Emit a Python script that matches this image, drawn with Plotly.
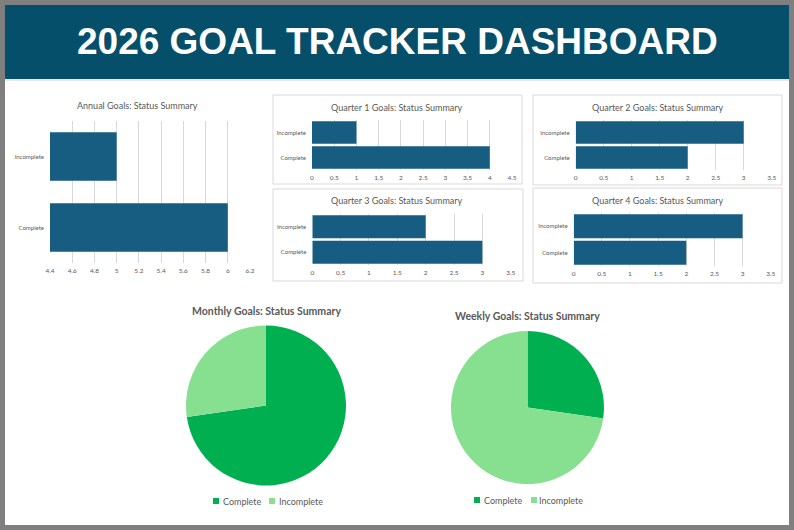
import plotly.graph_objects as go

W, H = 794, 530

# ---- data ----
categories = ["Complete", "Incomplete"]
annual_values = [6, 5]
q1_values = [4, 1]
q2_values = [2, 3]
q3_values = [3, 2]
q4_values = [2, 3]
monthly_values = [8, 3]
weekly_values = [3, 8]

BAR_COLOR = "#175d82"
DARK_GREEN = "#00b050"
LIGHT_GREEN = "#86e08f"
PIE_COLORS = [DARK_GREEN, LIGHT_GREEN]
TXT = "#595959"
FONT = "Lato"


def px(x):
    return x / W


def py(y):
    return 1 - y / H


fig = go.Figure()
layout = {}

bar_specs = [
    # title, values, x0, x1, y_top, y_bottom, range, dtick, title_x, title_y, bargap
    ("Annual Goals: Status Summary", annual_values, 50, 250, 121, 263, [4.4, 6.2], 0.2, 137, 106, 0.32),
    ("Quarter 1 Goals: Status Summary", q1_values, 312, 512, 120, 170, [0, 4.5], 0.5, 397, 107, 0.1),
    ("Quarter 2 Goals: Status Summary", q2_values, 575.7, 771.7, 120, 170, [0, 3.5], 0.5, 658, 107, 0.1),
    ("Quarter 3 Goals: Status Summary", q3_values, 312.3, 510.7, 214, 265, [0, 3.5], 0.5, 397, 200, 0.1),
    ("Quarter 4 Goals: Status Summary", q4_values, 573.7, 770.7, 213, 266, [0, 3.5], 0.5, 658, 200, 0.1),
]

annotations = []
shapes = []

for i, (title, vals, x0, x1, ytop, ybot, rng, dt, tx, ty, gap) in enumerate(bar_specs):
    k = "" if i == 0 else str(i + 1)
    fig.add_trace(go.Bar(
        x=vals, y=categories, orientation="h",
        marker=dict(color=BAR_COLOR, line=dict(width=0)),
        width=1 - gap,
        xaxis="x" + k, yaxis="y" + k, showlegend=False, hoverinfo="x+y",
    ))
    layout["xaxis" + k] = dict(
        domain=[px(x0), px(x1)], range=rng, dtick=dt, tick0=0,
        anchor="y" + k, showgrid=True, gridcolor="#d9d9d9", gridwidth=1,
        zeroline=False, showline=False, ticks="", automargin=False,
        tickfont=dict(size=6.5, color=TXT, family=FONT), ticklabelstandoff=2,
        fixedrange=True,
    )
    layout["yaxis" + k] = dict(
        domain=[py(ybot), py(ytop)], anchor="x" + k,
        categoryorder="array", categoryarray=categories,
        showgrid=False, zeroline=False, showline=False, ticks="", automargin=False,
        tickfont=dict(size=6, color=TXT, family=FONT), ticklabelstandoff=5,
        fixedrange=True,
    )
    annotations.append(dict(
        text=title, x=px(tx), y=py(ty), xref="paper", yref="paper",
        xanchor="center", yanchor="middle", showarrow=False,
        font=dict(size=9, color=TXT, family=FONT),
    ))

# panel borders for quarter charts
for (x0, y0, x1, y1) in [(273, 95, 522, 184), (533, 95, 782, 185), (273, 189, 523, 281), (533, 188, 782, 283)]:
    shapes.append(dict(type="rect", xref="paper", yref="paper",
                       x0=px(x0), x1=px(x1), y0=py(y1), y1=py(y0),
                       line=dict(color="#d9d9d9", width=1), fillcolor="rgba(0,0,0,0)", layer="below"))

# pies
pie_specs = [
    # title, values, cx, cy, r, title_x, title_y, legend_y, legend square x, legend text x
    ("Monthly Goals: Status Summary", monthly_values, 266, 405.5, 80, 266.5, 311, 501, [213, 269], [221, 277]),
    ("Weekly Goals: Status Summary", weekly_values, 527.5, 407.5, 76.5, 527, 316, 500, [474, 531], [482, 537]),
]
for title, vals, cx, cy, r, tx, ty, ly, sqx, txx in pie_specs:
    fig.add_trace(go.Pie(
        labels=categories, values=vals, sort=False, direction="clockwise", rotation=0,
        marker=dict(colors=PIE_COLORS, line=dict(width=0)),
        textinfo="none", domain=dict(x=[px(cx - r), px(cx + r)], y=[py(cy + r), py(cy - r)]),
        showlegend=False, hoverinfo="label+value+percent",
    ))
    annotations.append(dict(
        text="<b>" + title + "</b>", x=px(tx), y=py(ty), xref="paper", yref="paper",
        xanchor="center", yanchor="middle", showarrow=False,
        font=dict(size=10.5, color=TXT, family=FONT),
    ))
    for cat, col, sx, lx in zip(categories, PIE_COLORS, sqx, txx):
        shapes.append(dict(type="rect", xref="paper", yref="paper",
                           x0=px(sx), x1=px(sx + 6), y0=py(ly + 3), y1=py(ly - 3),
                           fillcolor=col, line=dict(width=0)))
        annotations.append(dict(
            text=cat, x=px(lx), y=py(ly), xref="paper", yref="paper",
            xanchor="left", yanchor="middle", showarrow=False,
            font=dict(size=9, color=TXT, family=FONT),
        ))

# header band and frame
shapes.append(dict(type="rect", xref="paper", yref="paper", x0=px(4), x1=px(790), y0=py(79), y1=py(4),
                   fillcolor="#064f6a", line=dict(width=0), layer="below"))
shapes.append(dict(type="line", xref="paper", yref="paper", x0=px(4), x1=px(790), y0=py(80), y1=py(80),
                   line=dict(color="#c9d3d8", width=1)))
shapes.append(dict(type="rect", xref="paper", yref="paper", x0=px(2.5), x1=px(791.5), y0=py(527.5), y1=py(2.5),
                   line=dict(color="#7f7f7f", width=5), fillcolor="rgba(0,0,0,0)"))

annotations.append(dict(
    text="<b>2026 GOAL TRACKER DASHBOARD</b>", x=px(397), y=py(42), xref="paper", yref="paper",
    xanchor="center", yanchor="middle", showarrow=False,
    font=dict(size=37, color="white", family="Liberation Sans, Arial"),
))

fig.update_layout(
    width=W, height=H, margin=dict(l=0, r=0, t=0, b=0),
    paper_bgcolor="white", plot_bgcolor="white",
    annotations=annotations, shapes=shapes, showlegend=False,
    bargap=0.1, **layout,
)

fig.write_html("out.html")
